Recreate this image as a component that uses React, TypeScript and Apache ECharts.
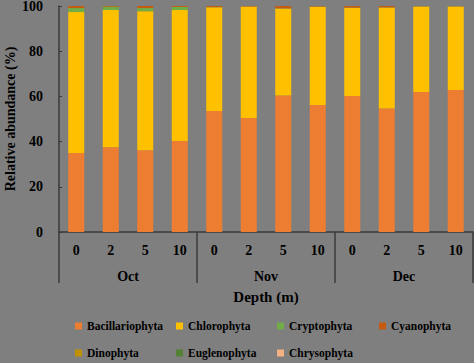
import React, { useEffect, useRef } from "react";
import * as echarts from "echarts";

const depths = ["0", "2", "5", "10", "0", "2", "5", "10", "0", "2", "5", "10"];
const months = ["Oct", "Nov", "Dec"];
const yTicks = { min: 0, max: 100, interval: 20 };

const seriesNames = [
  "Bacillariophyta",
  "Chlorophyta",
  "Cryptophyta",
  "Cyanophyta",
  "Dinophyta",
  "Euglenophyta",
  "Chrysophyta",
];
const bacillariophyta = [35, 37.5, 36.2, 40.3, 53.5, 50.4, 60.4, 56.2, 60.2, 54.6, 62, 62.8];
const chlorophyta = [62.3, 60.7, 61.5, 57.9, 45.9, 49.4, 38.5, 43.5, 39.0, 44.7, 37.8, 37.0];
const cryptophyta = [1.8, 1.4, 1.4, 1.4, 0.1, 0.0, 0.1, 0.1, 0.1, 0.1, 0.1, 0.1];
const cyanophyta = [0.9, 0.3, 0.9, 0.4, 0.5, 0.2, 1.0, 0.2, 0.7, 0.6, 0.1, 0.1];
const dinophyta = [0, 0.1, 0, 0, 0, 0, 0, 0, 0, 0, 0, 0];
const euglenophyta = [0, 0, 0, 0, 0, 0, 0, 0, 0, 0, 0, 0];
const chrysophyta = [0, 0, 0, 0, 0, 0, 0, 0, 0, 0, 0, 0];
const seriesValues = [
  bacillariophyta,
  chlorophyta,
  cryptophyta,
  cyanophyta,
  dinophyta,
  euglenophyta,
  chrysophyta,
];
const colors = ["#ED7D31", "#FFC000", "#70AD47", "#C55A11", "#BF9000", "#548235", "#F4B183"];
const legendPos = [
  [75, 320],
  [176, 320],
  [277, 320],
  [379, 320],
  [75, 347],
  [176, 347],
  [277, 347],
];

const FONT = "'Liberation Serif', 'Times New Roman', serif";
const AXIS = "#3a3a3a";

export default function App() {
  const ref = useRef<HTMLDivElement>(null);
  useEffect(() => {
    document.body.style.margin = "0";
    const chart = echarts.init(ref.current!, null, { renderer: "svg" });
    const txt = { color: "#000", fontFamily: FONT, fontWeight: "bold" as const };
    chart.setOption({
      animation: false,
      backgroundColor: "#7f7f7f",
      grid: {
        left: 59,
        right: 1,
        top: 6,
        bottom: 131,
        containLabel: false,
        outerBoundsMode: "none",
      },
      legend: seriesNames.map((n, i) => ({
        data: [n],
        left: legendPos[i][0],
        top: legendPos[i][1],
        padding: 0,
        icon: "rect",
        itemWidth: 7,
        itemHeight: 7,
        selectedMode: false,
        textStyle: { ...txt, fontSize: 11.5 },
      })),
      xAxis: [
        {
          type: "category",
          data: depths,
          position: "bottom",
          axisLine: { show: true, lineStyle: { color: AXIS, width: 1.5 } },
          axisTick: { show: false },
          axisLabel: { ...txt, fontSize: 14, margin: 11, interval: 0 },
          name: "Depth (m)",
          nameLocation: "middle",
          nameGap: 57,
          nameMoveOverlap: false,
          nameTextStyle: { ...txt, fontSize: 15 },
        },
        {
          type: "category",
          data: months,
          position: "bottom",
          axisLine: { show: false },
          axisTick: { show: true, length: 51, lineStyle: { color: AXIS, width: 1.5 } },
          axisLabel: { ...txt, fontSize: 14, margin: 37 },
        },
      ],
      yAxis: {
        type: "value",
        min: yTicks.min,
        max: yTicks.max,
        interval: yTicks.interval,
        splitLine: { show: false },
        axisLine: { show: true, lineStyle: { color: AXIS, width: 1.5 } },
        axisTick: { show: true, inside: true, length: 3, lineStyle: { color: AXIS } },
        axisLabel: { ...txt, fontSize: 14, margin: 16 },
        name: "Relative abundance (%)",
        nameLocation: "middle",
        nameGap: 41,
        nameMoveOverlap: false,
        nameTextStyle: { ...txt, fontSize: 14, lineHeight: 15 },
      },
      series: seriesNames.map((n, i) => ({
        name: n,
        type: "bar",
        stack: "total",
        xAxisIndex: 0,
        barWidth: 16,
        data: seriesValues[i],
        itemStyle: { color: colors[i] },
      })),
    });
    return () => chart.dispose();
  }, []);
  return <div ref={ref} style={{ width: 474, height: 363 }} />;
}
